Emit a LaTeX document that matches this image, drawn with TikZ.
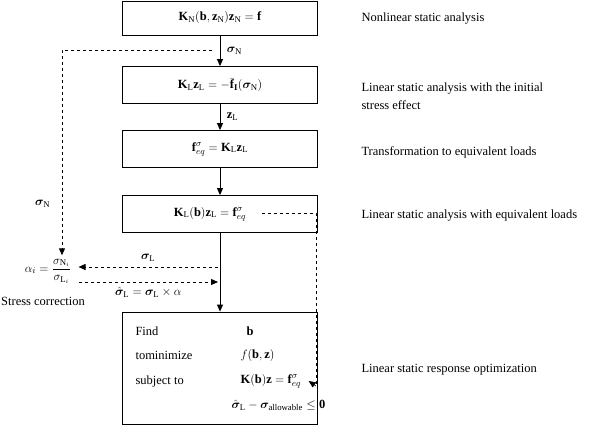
\documentclass[tikz,border=0pt]{standalone}
\usepackage{amsmath,bm}
\usepackage{fontspec}
\setmainfont{Liberation Serif}
\usetikzlibrary{arrows.meta}
\begin{document}
\begin{tikzpicture}[x=1pt,y=-1pt,font=\fontsize{12.5}{15}\selectfont,
 box/.style={draw,thick,minimum width=195pt,inner sep=0pt},
 arr/.style={-{Triangle[length=7pt,width=6pt]},line width=0.9pt},
 darr/.style={-{Triangle[length=7pt,width=6pt]},line width=0.9pt,dashed},
 lab/.style={anchor=west,align=left}]
\useasboundingbox (0,0) rectangle (610,427);
\node[box,minimum height=34pt] (b1) at (220,18) {$\mathbf{K}_{\mathrm{N}}(\mathbf{b},\mathbf{z}_{\mathrm{N}})\mathbf{z}_{\mathrm{N}}=\mathbf{f}$};
\node[box,minimum height=37pt] (b2) at (220,85) {$\mathbf{K}_{\mathrm{L}}\mathbf{z}_{\mathrm{L}}=-\bar{\mathbf{f}}_{\mathbf{I}}(\bm{\sigma}_{\mathrm{N}})$};
\node[box,minimum height=37pt] (b3) at (220,149) {$\mathbf{f}^{\sigma}_{eq}=\mathbf{K}_{\mathrm{L}}\mathbf{z}_{\mathrm{L}}$};
\node[box,minimum height=37pt] (b4) at (220,214) {\hspace*{-20pt}$\mathbf{K}_{\mathrm{L}}(\mathbf{b})\mathbf{z}_{\mathrm{L}}=\mathbf{f}^{\sigma}_{eq}$};
\node[box,minimum height=112pt] (b5) at (220,368) {};
\node[anchor=west] (t1) at (132,331) {Find};
\node[anchor=west] (t1b) at (243,331) {$\mathbf{b}$};
\node[anchor=west] (t2) at (132,355) {tominimize};
\node[anchor=west] (t2b) at (237,355) {$f(\mathbf{b},\mathbf{z})$};
\node[anchor=west] (t3) at (132,381) {subject to};
\node[anchor=west] (t3b) at (237,381) {$\mathbf{K}(\mathbf{b})\mathbf{z}=\mathbf{f}^{\sigma}_{eq}$};
\node[anchor=west] (t4) at (228,405) {$\hat{\bm{\sigma}}_{\mathrm{L}}-\bm{\sigma}_{\mathrm{allowable}}\le\mathbf{0}$};
\node[lab] (r1) at (358,19) {Nonlinear static analysis};
\node[lab] (r2) at (358,96) {Linear static analysis with the initial\\[3pt]stress effect};
\node[lab] (r3) at (358,152) {Transformation to equivalent loads};
\node[lab] (r4) at (358,216) {Linear static analysis with equivalent loads};
\node[lab] (r5) at (358,370) {Linear static response optimization};
\draw[arr] (b1) -- node[right,xshift=3pt] {$\bm{\sigma}_{\mathrm{N}}$} (b2);
\draw[arr] (b2) -- node[right,xshift=3pt] {$\mathbf{z}_{\mathrm{L}}$} (b3);
\draw[arr] (b3) -- (b4);
\draw[arr] (b4) -- (b5);
\node (al) at (48,271) {$\alpha_i=\dfrac{\sigma_{\mathrm{N}_i}}{\sigma_{\mathrm{L}_i}}$};
\node[anchor=west,inner sep=0pt] (sc) at (1,301) {Stress correction};
\coordinate (c1) at (212,50);
\coordinate (c2) at (62,50);
\draw[darr] (c1) -- (c2) -- node[left,xshift=-8pt,pos=0.75] {$\bm{\sigma}_{\mathrm{N}}$} (c2 |- al.north);
\coordinate (s1) at (218,267);
\coordinate (s2) at (218,282);
\draw[darr] (s1) -- node[above,yshift=2pt] {$\bm{\sigma}_{\mathrm{L}}$} ([xshift=4pt]s1 -| al.east);
\draw[darr] ([xshift=4pt]s2 -| al.east) -- node[below,yshift=-1pt] {$\hat{\bm{\sigma}}_{\mathrm{L}}=\bm{\sigma}_{\mathrm{L}}\times\alpha$} (s2);
\coordinate (d1) at (262,213);
\coordinate (d2) at (316,213);
\coordinate (d3) at (316,386);
\draw[dashed,line width=0.6pt] (d1) -- (d2) -- (d3);
\draw[darr,line width=0.6pt] (d3) -- ([xshift=4pt]t3b.east);
\end{tikzpicture}
\end{document}
